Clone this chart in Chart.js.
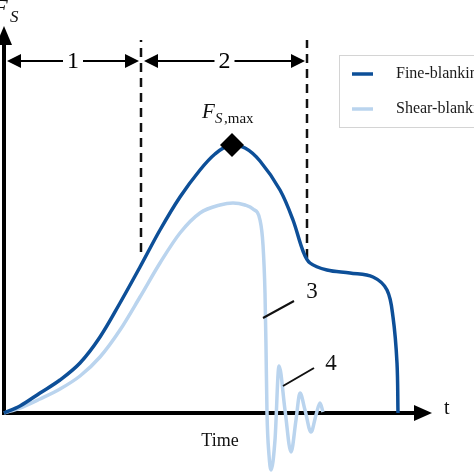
<!DOCTYPE html>
<html>
<head>
<meta charset="utf-8">
<script src="https://cdn.jsdelivr.net/npm/chart.js@4.4.1/dist/chart.umd.min.js"></script>
<style>
  html, body { margin: 0; padding: 0; background: #fff; }
  #c { display: block; }
</style>
</head>
<body>
<canvas id="c" width="474" height="474"></canvas>
<script>
// schematic curves, time / force in arbitrary units
const fineTime  = [0, 16, 36, 56, 76, 96, 116, 136, 156, 176, 196, 211, 226, 241, 256, 276, 289, 299, 306, 323, 346, 369, 383, 389, 393, 394];
const fineForce = [0, 7, 20, 33, 50, 76, 110, 146, 183, 216, 243, 259, 268, 265, 252, 223, 193, 162, 150, 143, 140, 136, 123, 96, 50, 0];

const shearTime  = [0, 16, 36, 56, 76, 96, 116, 136, 156, 176, 196, 216, 229, 241, 249, 256, 259, 261, 262, 263, 265, 267, 271, 275, 281, 287, 292, 296, 301, 307, 312, 316, 319];
const shearForce = [0, 5, 14, 24, 37, 56, 83, 116, 150, 180, 200, 208, 210, 208, 204, 193, 168, 120, 66, 0, -42, -57, -27, 47, 3, -39, -7, 20, 3, -19, -2, 10, 1];

const peakTime = [228];
const peakForce = [268];

const phase1 = [0, 137];
const phase2 = [137, 303];
const phaseLabels = ['1', '2'];
const seriesNames = ['Fine-blanking', 'Shear-blanking'];

const FINE = '#0d4f98';
const SHEAR = '#bad4ee';

function pts(xs, ys) {
  return xs.map((x, i) => ({ x: x, y: ys[i] }));
}

const serif = '"Liberation Serif", "DejaVu Serif", serif';

function arrowHead(ctx, x, y, dir) {
  ctx.beginPath();
  if (dir === 'l') { ctx.moveTo(x, y); ctx.lineTo(x + 14, y - 7); ctx.lineTo(x + 14, y + 7); }
  if (dir === 'r') { ctx.moveTo(x, y); ctx.lineTo(x - 14, y - 7); ctx.lineTo(x - 14, y + 7); }
  if (dir === 'u') { ctx.moveTo(x, y); ctx.lineTo(x - 8, y + 19); ctx.lineTo(x + 8, y + 19); }
  if (dir === 'R') { ctx.moveTo(x, y); ctx.lineTo(x - 18, y - 8); ctx.lineTo(x - 18, y + 8); }
  ctx.closePath();
  ctx.fill();
}

const decor = {
  id: 'decor',
  beforeDatasetsDraw(chart) {
    const ctx = chart.ctx;
    const sx = chart.scales.x, sy = chart.scales.y;
    const x0 = sx.getPixelForValue(0), y0 = sy.getPixelForValue(0);
    ctx.save();
    ctx.fillStyle = '#000';
    ctx.strokeStyle = '#000';
    // axes
    ctx.lineWidth = 4;
    ctx.beginPath();
    ctx.moveTo(x0, y0 + 2); ctx.lineTo(x0, 40);
    ctx.moveTo(x0 - 2, y0); ctx.lineTo(418, y0);
    ctx.stroke();
    arrowHead(ctx, x0, 26, 'u');
    arrowHead(ctx, 432, y0, 'R');

    // phase arrows
    const ay = 61;
    ctx.lineWidth = 2;
    [phase1, phase2].forEach((p, i) => {
      const a = sx.getPixelForValue(p[0]) + 3, b = sx.getPixelForValue(p[1]) - 2;
      ctx.beginPath(); ctx.moveTo(a + 10, ay); ctx.lineTo(b - 10, ay); ctx.stroke();
      arrowHead(ctx, a, ay, 'l');
      arrowHead(ctx, b, ay, 'r');
      const mid = (a + b) / 2;
      ctx.font = '24px ' + serif;
      ctx.textAlign = 'center'; ctx.textBaseline = 'middle';
      const w = ctx.measureText(phaseLabels[i]).width + 8;
      ctx.fillStyle = '#fff'; ctx.fillRect(mid - w / 2, ay - 10, w, 20);
      ctx.fillStyle = '#000'; ctx.fillText(phaseLabels[i], mid, ay + 1);
    });
    ctx.restore();
  },
  afterDatasetsDraw(chart) {
    const ctx = chart.ctx;
    ctx.save();
    ctx.fillStyle = '#111';
    ctx.textBaseline = 'alphabetic';
    ctx.textAlign = 'left';
    // F_S axis label (cut off at top-left)
    ctx.font = 'italic 24px ' + serif;
    ctx.fillText('F', -7, 15);
    ctx.font = 'italic 17px ' + serif;
    ctx.fillText('S', 10, 22);
    // F_S,max
    ctx.font = 'italic 21px ' + serif;
    ctx.fillText('F', 202, 118);
    ctx.font = 'italic 15px ' + serif;
    ctx.fillText('S', 215, 123);
    ctx.font = '15px ' + serif;
    ctx.fillText(',max', 224, 123);
    // t and Time
    ctx.font = '20px ' + serif;
    ctx.fillText('t', 444, 414);
    ctx.font = '18px ' + serif;
    ctx.textAlign = 'center';
    ctx.fillText('Time', 220, 446);
    // labels 3 and 4
    ctx.font = '23px ' + serif;
    ctx.fillText('3', 312, 298);
    ctx.fillText('4', 331, 370);
    ctx.strokeStyle = '#111';
    ctx.lineWidth = 2;
    ctx.beginPath();
    ctx.moveTo(263, 318); ctx.lineTo(294, 301);
    ctx.moveTo(283, 386); ctx.lineTo(314, 368);
    ctx.stroke();
    // legend
    ctx.fillStyle = '#fff';
    ctx.fillRect(339.5, 55.5, 140, 72);
    ctx.strokeStyle = '#d4d4d4';
    ctx.lineWidth = 1;
    ctx.strokeRect(339.5, 55.5, 140, 72);
    ctx.lineWidth = 3.5;
    ctx.strokeStyle = FINE;
    ctx.beginPath(); ctx.moveTo(352, 74); ctx.lineTo(373, 74); ctx.stroke();
    ctx.strokeStyle = SHEAR;
    ctx.beginPath(); ctx.moveTo(352, 109); ctx.lineTo(373, 109); ctx.stroke();
    ctx.fillStyle = '#1a1a1a';
    ctx.font = '16px ' + serif;
    ctx.textAlign = 'left';
    ctx.textBaseline = 'middle';
    ctx.fillText(seriesNames[0], 396, 74);
    ctx.fillText(seriesNames[1], 396, 109);
    ctx.restore();
  }
};

new Chart(document.getElementById('c'), {
  type: 'line',
  data: {
    datasets: [
      {
        label: 'peak',
        data: pts(peakTime, peakForce),
        showLine: false,
        pointStyle: 'rectRot',
        pointRadius: 12,
        pointBackgroundColor: '#000',
        pointBorderColor: '#000',
        pointBorderWidth: 0
      },
      {
        label: seriesNames[0],
        data: pts(fineTime, fineForce),
        borderColor: FINE,
        borderWidth: 3.5,
        pointRadius: 0,
        tension: 0.35,
        clip: false
      },
      {
        label: seriesNames[1],
        data: pts(shearTime, shearForce),
        borderColor: SHEAR,
        borderWidth: 3.5,
        pointRadius: 0,
        cubicInterpolationMode: 'monotone',
        clip: false
      },
      {
        label: 'b1',
        data: [{ x: phase1[1], y: 161 }, { x: phase1[1], y: 373 }],
        borderColor: '#111',
        borderWidth: 2.5,
        borderDash: [9, 6],
        pointRadius: 0
      },
      {
        label: 'b2',
        data: [{ x: phase2[1], y: 155 }, { x: phase2[1], y: 373 }],
        borderColor: '#111',
        borderWidth: 2.5,
        borderDash: [9, 6],
        pointRadius: 0
      }
    ]
  },
  options: {
    responsive: false,
    animation: false,
    devicePixelRatio: 1,
    layout: { padding: 0, autoPadding: false },
    plugins: { legend: { display: false }, tooltip: { enabled: false } },
    scales: {
      x: { type: 'linear', display: false, min: -4, max: 470 },
      y: { type: 'linear', display: false, min: -61, max: 413 }
    }
  },
  plugins: [decor]
});
</script>
</body>
</html>
